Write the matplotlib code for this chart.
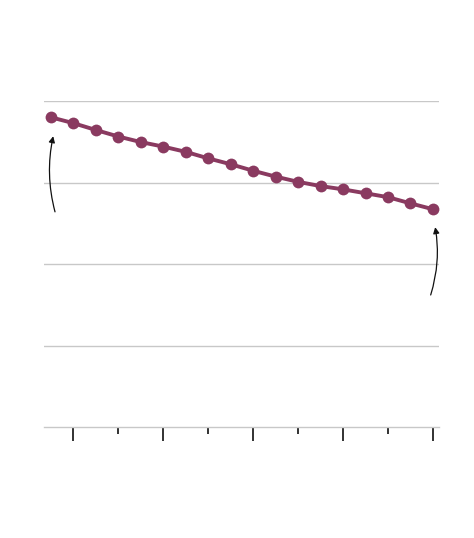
import matplotlib
matplotlib.use("Agg")
import matplotlib.pyplot as plt

years = list(range(2000, 2018))
values = [95.0, 93.2, 91.1, 89.1, 87.4, 86.0, 84.4, 82.4, 80.6, 78.6,
          76.8, 75.2, 73.9, 72.9, 71.7, 70.5, 68.6, 66.8]
grid_vals = [25, 50, 75, 100]
major_ticks = [2001, 2005, 2009, 2013, 2017]
minor_ticks = [2003, 2007, 2011, 2015]

W, H = 474, 538
fig = plt.figure(figsize=(W / 100, H / 100), dpi=100)
ax = fig.add_axes([44 / W, (H - 427) / H, 395 / W, (427 - 101) / H])
ax.set_xlim(1999.69, 2017.27)
ax.set_ylim(0, 100)

for g in grid_vals:
    ax.axhline(g, color="#c8c8c8", lw=1.0, zorder=1)

for s in ["top", "right", "left"]:
    ax.spines[s].set_visible(False)
ax.spines["bottom"].set_color("#c8c8c8")
ax.spines["bottom"].set_linewidth(1.0)

ax.set_xticks(major_ticks)
ax.set_xticks(minor_ticks, minor=True)
ax.set_xticklabels([])
ax.set_yticks([])
ax.tick_params(axis="x", which="major", length=10, width=1.3, color="#222222", direction="out")
ax.tick_params(axis="x", which="minor", length=5, width=1.3, color="#222222", direction="out")

ax.plot(years, values, color="#8a3a60", lw=2.8, marker="o", markersize=8.5,
        markeredgewidth=0, zorder=3)

ax.annotate("", xy=(2000.1, 89.2), xytext=(2000.18, 66.0),
            arrowprops=dict(arrowstyle="-|>", color="#111111", lw=0.9,
                            mutation_scale=9, shrinkA=0, shrinkB=0,
                            connectionstyle="arc3,rad=-0.12"))
ax.annotate("", xy=(2017.1, 61.3), xytext=(2016.9, 40.5),
            arrowprops=dict(arrowstyle="-|>", color="#111111", lw=0.9,
                            mutation_scale=9, shrinkA=0, shrinkB=0,
                            connectionstyle="arc3,rad=0.12"))

fig.savefig("out.png", dpi=100)
